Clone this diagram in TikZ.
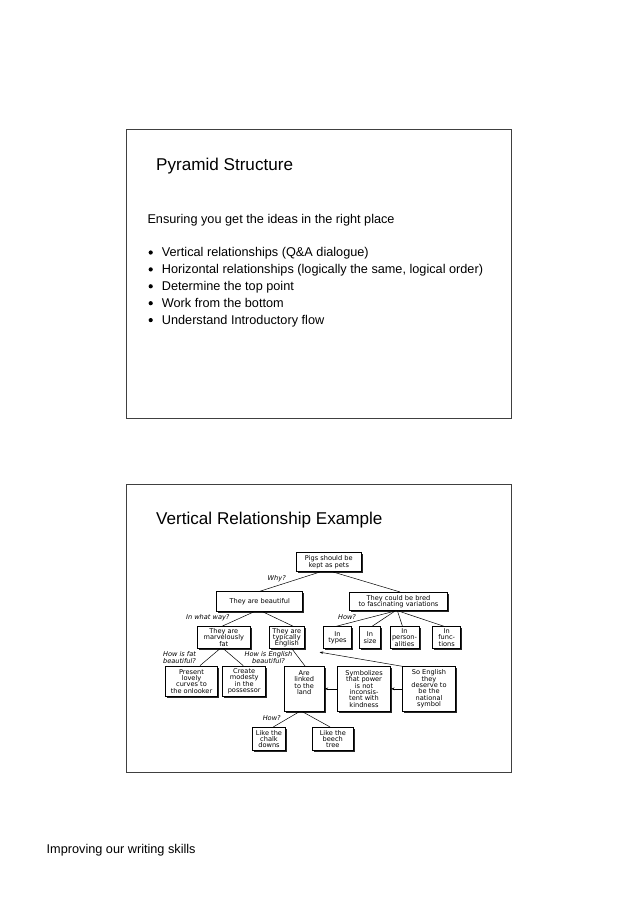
\documentclass[tikz,border=0pt]{standalone}
\usepackage{fontspec}
\setmainfont{Liberation Sans}
\newfontfamily\djfont{DejaVu Sans}
\usetikzlibrary{shadows,arrows.meta}
\newcommand\dfont{\djfont\fontsize{6.6}{6.3}\selectfont\lineskiplimit=-6pt\relax}
\newcommand\bodyfont{\fontsize{12.7}{15}\selectfont}
\begin{document}
\begin{tikzpicture}[x=1pt,y=-1pt,
  frame/.style={draw=black!75, line width=0.9pt},
  pbox/.style={draw, line width=0.7pt, fill=white, align=center, inner sep=0pt, font=\dfont,
    drop shadow={shadow xshift=1.6pt, shadow yshift=-1.6pt, fill=black!85, opacity=1}},
  conn/.style={line width=0.5pt},
  lab/.style={font=\dfont\itshape, align=center, inner sep=0pt},
  arr/.style={conn, -{Stealth[length=3.5pt,width=2.6pt]}},
  txt/.style={anchor=base west, inner sep=0pt, font=\bodyfont},
  ttl/.style={anchor=base west, inner sep=0pt, font=\fontsize{17.1}{20}\selectfont},
  bul/.style={fill=black}]
\fill[white] (0,0) rectangle (638,903);
\useasboundingbox (0,0) rectangle (638,903);

% ---------- Slide 1 ----------
\draw[frame] (126.7,129.7) rectangle (511.7,418.3);
\node[ttl] (t1) at (156,170) {Pyramid Structure};
\node[txt] (s1) at (147.3,223.3) {Ensuring you get the ideas in the right place};
\foreach \y/\t [count=\i] in {256.7/Vertical relationships (Q\&A dialogue),
  273.6/{Horizontal relationships (logically the same, logical order)},
  290.5/Determine the top point,
  307.4/Work from the bottom,
  324.3/Understand Introductory flow}{
  \fill[bul] (150.7,\y-4.2) circle (2.1);
  \node[txt] (b\i) at (161.7,\y) {\t};
}

% ---------- Slide 2 ----------
\draw[frame] (126.7,484.7) rectangle (511.7,772.7);
\node[ttl] (t2) at (156,524.3) {Vertical Relationship Example};

\node[pbox, minimum width=64.3pt, minimum height=19pt] (pigs) at (328.8,562.2) {Pigs should be\\kept as pets};
\node[pbox, minimum width=86pt, minimum height=19.3pt] (beaut) at (259.7,601.3) {They are beautiful};
\node[pbox, minimum width=98.4pt, minimum height=18.4pt] (bred) at (398.5,601.5) {They could be bred\\to fascinating variations};
\node[pbox, minimum width=52.3pt, minimum height=21.6pt] (fat) at (223.8,637.5) {They are\\marvelously\\fat};
\node[pbox, minimum width=35pt, minimum height=21.6pt] (eng) at (286.8,637.5) {They are\\typically\\English};
\node[pbox, minimum width=28.4pt, minimum height=21.6pt] (types) at (337.5,637.5) {In\\types};
\node[pbox, minimum width=21.4pt, minimum height=21.6pt] (size) at (370,637.5) {In\\size};
\node[pbox, minimum width=29pt, minimum height=21.6pt] (pers) at (404.5,637.5) {In\\person-\\alities};
\node[pbox, minimum width=28pt, minimum height=21.6pt] (func) at (446.7,637.5) {In\\func-\\tions};
\node[pbox, minimum width=52.4pt, minimum height=30.7pt] (pres) at (191.5,681.3) {Present\\lovely\\curves to\\the onlooker};
\node[pbox, minimum width=43pt, minimum height=30.7pt] (modest) at (244.2,681.3) {Create\\modesty\\in the\\possessor};
\node[pbox, minimum width=40.3pt, minimum height=44.3pt] (land) at (304.2,688.8) {Are\\linked\\to the\\land\\~\\~};
\node[pbox, minimum width=53.4pt, minimum height=44.3pt] (symb) at (364,688.8) {Symbolizes\\that power\\is not\\inconsis-\\tent with\\kindness};
\node[pbox, minimum width=52.6pt, minimum height=44.3pt] (natl) at (429,688.8) {So English\\they\\deserve to\\be the\\national\\symbol};
\node[pbox, minimum width=32.6pt, minimum height=23.4pt] (chalk) at (269,739) {Like the\\chalk\\downs};
\node[pbox, minimum width=41pt, minimum height=23.4pt] (beech) at (332.8,739) {Like the\\beech\\tree};

% connectors
\draw[conn] ([xshift=-9pt]pigs.south) -- (beaut.north);
\draw[conn] ([xshift=4.5pt]pigs.south) -- ([xshift=1.5pt]bred.north);
\draw[conn] ([xshift=-4.7pt]beaut.south) -- ([xshift=-2pt]fat.north);
\draw[conn] ([xshift=2pt]beaut.south) -- ([xshift=6.5pt]eng.north);
\draw[conn] ([xshift=-3.5pt]bred.south) -- ([xshift=-1.5pt]types.north);
\draw[conn] ([xshift=-3.5pt]bred.south) -- ([xshift=2pt]size.north);
\draw[conn] ([xshift=-1pt]bred.south) -- ([xshift=-2pt]pers.north);
\draw[conn] ([xshift=0pt]bred.south) -- ([xshift=-2.5pt]func.north);
\draw[conn] ([xshift=-3.8pt]fat.south) -- ([xshift=8.5pt]pres.north);
\draw[conn] ([xshift=-0.5pt]fat.south) -- ([xshift=-1pt]modest.north);
\draw[conn] ([xshift=5pt]eng.south) -- ([xshift=1pt]land.north);
\draw[conn] ([xshift=-4.2pt]land.south) -- ([xshift=4.3pt]chalk.north);
\draw[conn] ([xshift=-2.5pt]land.south) -- ([xshift=-2.8pt]beech.north);
\draw[arr] (natl.north west) -- ([xshift=15pt,yshift=-3.5pt]eng.south east);
\draw[arr] (symb.west) -- (land.east);
\draw[arr] (natl.west) -- (symb.east);

% labels
\node[lab] (why) at (276.7,579) {Why?};
\node[lab] (way) at (207.8,618) {In what way?};
\node[lab] (how1) at (347,617.3) {How?};
\node[lab] (howfat) at (179.5,657.5) {How is fat\\beautiful?};
\node[lab] (howeng) at (268.5,657.5) {How is English\\beautiful?};
\node[lab] (how2) at (271.7,718.3) {How?};

% footer
\node[txt] (foot) at (46.5,853.3) {Improving our writing skills};
\end{tikzpicture}
\end{document}
